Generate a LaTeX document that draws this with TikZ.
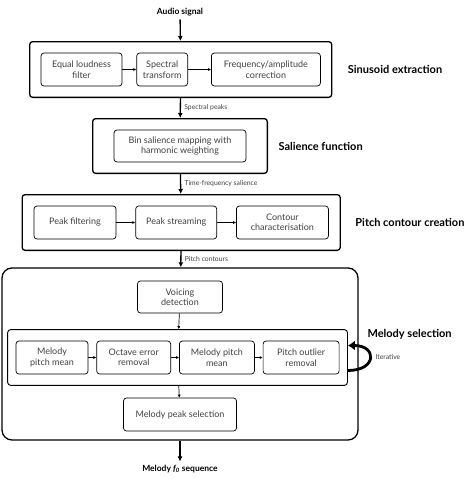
\documentclass[tikz,border=0pt]{standalone}
\usepackage{fontspec}
\setmainfont{Lato}
\usepackage{tikz}
\usetikzlibrary{arrows.meta,positioning,fit}

\begin{document}
\begin{tikzpicture}[
    x=1pt, y=-1pt,
    >=Latex,
    block/.style={draw, rounded corners=3pt, align=center, minimum height=33pt, inner sep=2pt, font=\fontsize{9}{10.5}\selectfont, text=black!75, line width=0.7pt},
    stage/.style={draw, rounded corners=3pt, line width=1.3pt, inner ysep=11pt},
    stagelabel/.style={anchor=west, font=\fontsize{11}{13}\selectfont\bfseries},
    io/.style={font=\fontsize{8.5}{10}\selectfont\bfseries},
    flow/.style={-{Latex[length=5pt,width=5pt]}, line width=1.3pt},
    link/.style={-{Latex[length=3pt,width=3pt]}, line width=0.7pt},
    tag/.style={right, font=\fontsize{6.8}{8}\selectfont, text=black!75}
]
\useasboundingbox (0,0) rectangle (474,479);

% Sinusoid extraction stage.
\node[block, minimum width=81pt] (eqloud) at (81.5,69.5) {Equal loudness\\filter};
\node[block, minimum width=51pt, right=14pt of eqloud] (spectrans) {Spectral\\transform};
\node[block, minimum width=109pt, right=23pt of spectrans] (freqamp) {Frequency/amplitude\\correction};
\node[stage, inner xsep=11pt, fit=(eqloud)(freqamp)] (sinusoid) {};
\node[stagelabel, right=12pt of sinusoid] (sinlabel) {Sinusoid extraction};

% Salience function stage.
\node[block, minimum width=132pt, minimum height=32pt] (binsal) at (180,146) {Bin salience mapping with\\harmonic weighting};
\node[stage, inner xsep=21pt, fit=(binsal)] (salience) {};
\node[stagelabel, right=7pt of salience] (sallabel) {Salience function};

% Pitch contour creation stage.
\node[block, minimum width=82pt] (peakfilt) at (75,222.5) {Peak filtering};
\node[block, minimum width=81pt, right=19pt of peakfilt] (peakstream) {Peak streaming};
\node[block, minimum width=92pt, right=19pt of peakstream] (contchar) {Contour\\characterisation};
\node[stage, inner xsep=11.5pt, fit=(peakfilt)(contchar)] (contour) {};
\node[stagelabel, right=11pt of contour] (conlabel) {Pitch contour creation};

% Melody selection stage with the iterative inner loop.
\node[block, minimum width=85pt, minimum height=32pt] (voicing) at (180,297) {Voicing\\detection};
\node[block, minimum width=72pt] (pmeanA) at (52,357.5) {Melody\\pitch mean};
\node[block, minimum width=74pt, right=8pt of pmeanA] (octave) {Octave error\\removal};
\node[block, minimum width=75pt, right=8pt of octave] (pmeanB) {Melody pitch\\mean};
\node[block, minimum width=76pt, right=8pt of pmeanB] (outlier) {Pitch outlier\\removal};
\node[stage, line width=0.9pt, inner xsep=8pt, fit=(pmeanA)(outlier)] (iterloop) {};
\node[block, minimum width=113pt] (peaksel) at (180,414.5) {Melody peak selection};
\node[draw, rounded corners=10pt, line width=1.3pt, minimum width=356pt, minimum height=172pt] (melody) at (180,354) {};
\node[stagelabel] (mellabel) at (364,334) {Melody selection};
\node[tag] (iterlabel) at (372,357) {Iterative};

% Input and output.
\node[io] (audio) at (180,12) {Audio signal};
\node[io] (output) at (180,469) {Melody \textit{f\textsubscript{0}} sequence};

% Main flow between stages.
\draw[flow] (audio) -- (sinusoid);
\draw[flow] (sinusoid) -- node[tag]{Spectral peaks} (salience);
\draw[flow] (salience) -- node[tag]{Time-frequency salience} (contour);
\draw[flow] (contour) -- node[tag]{Pitch contours} (melody);
\draw[flow] (melody) -- (output);

% Arrows inside the stages.
\draw[link] (eqloud) -- (spectrans);
\draw[link] (spectrans) -- (freqamp);
\draw[link] (peakfilt) -- (peakstream);
\draw[link] (peakstream) -- (contchar);
\draw[link] (voicing) -- (iterloop);
\draw[link] (pmeanA) -- (octave);
\draw[link] (octave) -- (pmeanB);
\draw[link] (pmeanB) -- (outlier);
\draw[link] (iterloop) -- (peaksel);

% Iteration loop.
\draw[-{Latex[length=7pt,width=10pt]}, line width=2.8pt] ([yshift=-13pt]iterloop.east) to[out=0, in=0, looseness=3] ([yshift=12pt]iterloop.east);

\end{tikzpicture}
\end{document}
